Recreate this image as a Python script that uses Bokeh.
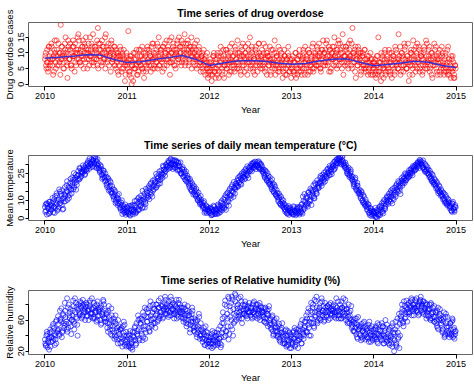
from bokeh.plotting import figure
from bokeh.layouts import column
from bokeh.models import FixedTicker, Range1d
from bokeh.embed import file_html
from bokeh.resources import INLINE

years = [2010, 2011, 2012, 2013, 2014]
year_ticks = [2010, 2011, 2012, 2013, 2014, 2015]
year_labels = ["2010", "2011", "2012", "2013", "2014", "2015"]

# ---- Drug overdose cases: three interleaved sets of readings per year ----
drug_2010 = [8, 6, 11, 5, 9, 7, 12, 8, 4, 10, 9, 6, 13, 7, 19, 8, 10, 5, 11, 9, 2, 12, 8, 6, 10, 14, 9, 7, 11, 15,
             8, 10, 6, 12, 9, 13, 7, 11, 10, 8, 15, 9, 12, 6, 10, 11, 8, 18, 9, 13, 7, 10, 12, 8, 16, 9, 11, 6, 10, 14,
             8, 9, 12, 5, 7, 10, 6, 9, 4, 8, 11, 1, 7]
drug_2011 = [6, 17, 3, 8, 0, 7, 5, 10, 6, 9, 4, 7, 11, 5, 8, 2, 9, 6, 12, 7, 10, 4, 8, 13, 6, 9, 11, 5, 15, 8,
             10, 7, 12, 6, 9, 14, 8, 11, 3, 10, 7, 13, 9, 5, 11, 8, 15, 10, 6, 12, 9, 16, 7, 11, 13, 8, 10, 15, 9, 12,
             6, 11, 14, 8, 10, 7, 9, 5, 11, 8, 6, 10, 3]
drug_2012 = [5, 8, 1, 6, 10, 4, 7, 3, 9, 6, 12, 5, 8, 2, 7, 11, 6, 9, 4, 8, 13, 7, 5, 10, 8, 14, 6, 9, 3, 11,
             7, 8, 12, 5, 9, 7, 15, 6, 10, 4, 8, 11, 7, 9, 13, 6, 8, 5, 10, 7, 12, 3, 9, 6, 8, 11, 5, 7, 14, 6,
             9, 4, 8, 7, 10, 2, 6, 9, 5, 8, 12, 4, 7]
drug_2013 = [6, 9, 4, 7, 2, 8, 5, 11, 6, 3, 9, 7, 12, 5, 8, 4, 10, 6, 7, 13, 5, 9, 8, 11, 6, 10, 4, 9, 14, 7,
             11, 8, 6, 12, 9, 5, 10, 8, 15, 7, 11, 9, 6, 13, 8, 10, 3, 9, 12, 7, 10, 8, 14, 6, 18, 9, 11, 2, 8, 12,
             7, 10, 5, 9, 6, 11, 4, 8, 7, 5, 10, 6, 3]
drug_2014 = [5, 8, 2, 6, 15, 4, 7, 3, 9, 5, 11, 6, 8, 4, 10, 7, 2, 9, 5, 12, 6, 8, 16, 7, 4, 10, 6, 13, 8, 5,
             9, 1, 7, 11, 6, 14, 8, 4, 10, 7, 12, 5, 9, 3, 8, 11, 6, 13, 7, 9, 5, 10, 2, 8, 6, 12, 4, 7, 9, 3,
             6, 10, 5, 8, 4, 7, 12, 3, 6, 5, 9, 2, 6]

drug2_2010 = [9, 5, 7, 12, 6, 10, 8, 3, 11, 7, 14, 9, 6, 10, 8, 12, 5, 9, 15, 7, 11, 8, 13, 6, 9, 12, 4, 10, 8, 11,
              14, 7, 9, 12, 5, 10, 15, 8, 11, 6, 9, 13, 10, 7, 12, 8, 14, 5, 11, 9, 6, 12, 8, 15, 10, 7, 13, 9, 4, 11,
              8, 12, 6, 10, 9, 3, 8, 11, 5, 9, 7, 6, 10]
drug2_2011 = [5, 8, 4, 9, 6, 1, 8, 5, 11, 3, 7, 9, 6, 12, 4, 8, 10, 5, 7, 11, 9, 6, 13, 8, 5, 10, 7, 12, 6, 9,
              11, 4, 8, 13, 10, 6, 12, 7, 9, 15, 8, 11, 6, 10, 13, 9, 7, 12, 14, 8, 10, 6, 13, 9, 11, 7, 12, 5, 10, 8,
              13, 9, 6, 11, 7, 4, 9, 6, 8, 3, 7, 5, 4]
drug2_2012 = [7, 3, 6, 9, 4, 8, 5, 10, 2, 7, 9, 4, 11, 6, 8, 5, 10, 3, 12, 7, 6, 9, 4, 11, 7, 10, 5, 8, 12, 6,
              9, 4, 10, 7, 13, 8, 5, 11, 7, 9, 3, 12, 6, 8, 10, 5, 9, 7, 13, 4, 8, 10, 6, 9, 3, 7, 11, 8, 5, 10,
              6, 12, 4, 9, 7, 5, 11, 3, 8, 6, 9, 4, 5]
drug2_2013 = [8, 4, 7, 10, 5, 3, 9, 6, 4, 8, 11, 5, 7, 9, 3, 10, 6, 8, 12, 4, 7, 10, 6, 9, 13, 5, 8, 11, 6, 10,
              7, 14, 9, 4, 11, 8, 12, 6, 9, 10, 5, 13, 8, 11, 7, 16, 9, 6, 12, 8, 5, 11, 9, 13, 7, 10, 4, 8, 6, 11,
              9, 3, 7, 10, 5, 8, 6, 9, 4, 7, 3, 8, 5]
drug2_2014 = [7, 3, 6, 9, 4, 7, 1, 8, 5, 10, 3, 7, 6, 11, 4, 8, 6, 9, 3, 7, 10, 5, 8, 12, 6, 9, 4, 11, 7, 5,
              13, 8, 6, 10, 3, 9, 7, 12, 5, 8, 11, 6, 9, 4, 10, 7, 14, 5, 8, 12, 6, 3, 9, 7, 11, 5, 8, 10, 4, 7,
              12, 6, 3, 9, 5, 11, 4, 7, 2, 8, 5, 3, 6]

drug3_2010 = [10, 7, 4, 12, 8, 13, 6, 9, 14, 5, 11, 8, 10, 3, 12, 9, 7, 13, 10, 6, 14, 8, 11, 5, 12, 9, 13, 6, 10,
              16, 7, 11, 9, 14, 8, 12, 10, 5, 13, 9, 11, 7, 16, 8, 12, 10, 6, 13, 9, 11, 14, 7, 10, 5, 12, 8, 11, 9,
              13, 7, 10, 6, 11, 8, 4, 9, 12, 7, 10, 5, 8, 3, 9]
drug3_2011 = [7, 4, 9, 2, 6, 10, 5, 8, 3, 7, 11, 6, 9, 5, 10, 7, 4, 11, 8, 6, 9, 12, 5, 10, 8, 7, 13, 9, 6, 11,
              8, 12, 5, 10, 8, 11, 9, 14, 7, 10, 12, 6, 11, 9, 14, 8, 12, 10, 7, 13, 11, 8, 10, 14, 6, 12, 9, 11, 7,
              10, 8, 5, 9, 12, 6, 8, 10, 4, 7, 9, 5, 2, 6]
drug3_2012 = [4, 7, 3, 9, 5, 2, 8, 6, 4, 10, 7, 3, 9, 6, 11, 5, 8, 7, 10, 4, 9, 6, 12, 8, 5, 7, 10, 4, 9, 13,
              6, 10, 8, 3, 11, 7, 9, 12, 5, 8, 6, 10, 4, 13, 7, 9, 11, 6, 8, 5, 10, 9, 7, 12, 4, 8, 6, 10, 3, 9,
              7, 5, 11, 6, 8, 4, 9, 7, 3, 10, 6, 8, 2]
drug3_2013 = [5, 7, 3, 10, 6, 8, 4, 9, 7, 5, 10, 3, 8, 6, 11, 7, 4, 9, 5, 10, 8, 6, 12, 7, 9, 5, 11, 8, 10, 6,
              13, 9, 7, 11, 4, 10, 8, 12, 9, 6, 11, 14, 8, 10, 5, 12, 7, 9, 11, 6, 13, 9, 8, 5, 10, 7, 12, 9, 6,
              10, 8, 4, 9, 6, 11, 5, 7, 3, 9, 6, 8, 4, 7]
drug3_2014 = [6, 4, 9, 3, 7, 5, 10, 6, 2, 8, 4, 9, 5, 7, 3, 10, 6, 8, 4, 11, 7, 5, 9, 3, 10, 8, 6, 12, 5, 9,
              7, 3, 10, 8, 5, 11, 6, 9, 13, 7, 4, 10, 8, 6, 12, 5, 9, 7, 11, 4, 8, 10, 6, 13, 7, 9, 3, 8, 11, 5,
              9, 7, 4, 10, 6, 3, 8, 5, 9, 4, 7, 2, 5]

# smooth trend line of drug overdose cases
trend_t = [2010.0, 2010.17, 2010.33, 2010.5, 2010.67, 2010.83, 2011.0, 2011.17, 2011.33, 2011.5, 2011.67,
           2011.83, 2012.0, 2012.17, 2012.33, 2012.5, 2012.67, 2012.83, 2013.0, 2013.17, 2013.33, 2013.5,
           2013.67, 2013.83, 2014.0, 2014.17, 2014.33, 2014.5, 2014.67, 2014.83, 2015.0]
trend_v = [8.3, 8.6, 8.9, 9.4, 9.3, 8.0, 6.9, 7.2, 7.9, 8.5, 9.2, 8.0, 6.0, 6.8, 7.4, 7.6, 7.3, 6.8, 6.4, 6.6,
           7.4, 8.0, 8.1, 7.0, 5.9, 6.3, 6.8, 7.3, 7.0, 6.0, 5.3]

# ---- Daily mean temperature (°C) ----
temp_2010 = [6.2, 4.1, 8.0, 5.3, 2.8, 7.4, 5.0, 9.3, 6.1, 12.2, 7.5, 4.2, 10.4, 8.1, 13.5, 7.2, 11.0, 9.2, 12.3,
             15.1, 10.2, 17.4, 13.0, 16.2, 18.1, 21.3, 17.2, 22.4, 20.1, 23.5, 24.2, 22.0, 26.1, 25.3, 27.2, 26.0,
             28.1, 27.3, 30.2, 29.0, 31.1, 30.4, 31.2, 32.0, 30.1, 33.0, 31.3, 29.2, 28.0, 26.1, 27.2, 24.0, 25.1,
             22.3, 21.0, 19.2, 20.1, 17.3, 18.0, 15.2, 14.1, 12.0, 13.2, 10.1, 11.0, 8.2, 9.1, 6.0, 7.2, 4.1, 6.0,
             3.2, 5.1]
temp_2011 = [4.0, 2.2, 5.1, 3.0, 6.2, 2.1, 4.3, 7.0, 3.2, 8.1, 5.0, 9.2, 7.1, 10.0, 6.2, 12.1, 9.0, 11.2, 14.0,
             12.1, 16.2, 13.0, 17.1, 15.2, 18.0, 20.1, 17.2, 22.0, 19.1, 21.2, 23.0, 25.1, 24.2, 27.0, 26.1, 28.2,
             29.0, 31.1, 28.2, 30.0, 32.1, 29.2, 30.0, 28.1, 31.2, 27.0, 29.1, 26.2, 25.0, 27.1, 23.2, 24.0, 21.1,
             22.2, 20.0, 18.1, 19.2, 16.0, 17.1, 14.2, 15.0, 12.1, 13.2, 10.0, 11.1, 8.2, 9.0, 7.1, 6.2, 5.0, 7.1,
             4.2, 5.0]
temp_2012 = [4.1, 3.0, 5.2, 2.1, 4.0, 3.2, 5.1, 3.0, 6.2, 4.1, 7.0, 5.2, 8.1, 6.0, 10.2, 7.1, 12.0, 9.2, 13.1,
             11.0, 15.2, 14.1, 17.0, 16.2, 19.1, 18.0, 21.2, 20.1, 22.0, 21.2, 23.1, 25.0, 22.2, 26.1, 24.0, 27.2,
             28.1, 27.0, 29.2, 30.1, 28.0, 29.2, 30.1, 29.0, 28.2, 30.0, 27.1, 26.2, 25.0, 23.1, 24.2, 21.0, 22.1,
             20.2, 19.0, 17.1, 18.2, 15.0, 16.1, 13.2, 12.0, 10.1, 11.2, 8.0, 9.1, 7.2, 6.0, 5.1, 4.2, 6.0, 3.1,
             5.2, 4.0]
temp_2013 = [3.1, 5.0, 2.2, 4.1, 3.0, 6.2, 4.1, 2.0, 5.2, 3.1, 12.0, 6.2, 9.1, 7.0, 11.2, 8.1, 13.0, 10.2, 12.1,
             15.0, 11.2, 16.1, 14.0, 17.2, 18.1, 20.0, 19.2, 22.1, 21.0, 23.2, 24.1, 23.0, 25.2, 26.1, 24.0, 27.2,
             28.1, 29.0, 27.2, 30.1, 31.0, 32.2, 33.1, 34.0, 31.2, 32.1, 30.0, 29.2, 28.1, 26.0, 27.2, 24.1, 25.0,
             22.2, 21.1, 19.0, 20.2, 17.1, 18.0, 15.2, 14.1, 12.0, 13.2, 10.1, 9.0, 8.2, 7.1, 5.0, 6.2, 3.1, 4.0,
             2.2, 3.1]
temp_2014 = [4.0, 1.2, 3.1, 0.2, 2.0, 5.1, 3.2, 6.0, 4.1, 8.2, 5.0, 9.1, 10.2, 8.0, 12.1, 9.2, 14.0, 11.1, 15.2,
             13.0, 17.1, 16.2, 18.0, 15.1, 19.2, 21.0, 20.1, 22.2, 21.0, 23.1, 24.2, 23.0, 25.1, 26.2, 25.0, 27.1,
             28.2, 27.0, 29.1, 30.2, 29.0, 31.1, 30.2, 29.0, 28.1, 27.2, 26.0, 27.1, 25.2, 24.0, 23.1, 22.2, 21.0,
             20.1, 19.2, 18.0, 17.1, 16.2, 15.0, 14.1, 13.2, 12.0, 11.1, 10.2, 9.0, 8.1, 9.2, 7.0, 6.1, 4.2, 8.0,
             5.1, 6.2]

temp2_2010 = [3.5, 8.2, 6.9, 2.4, 9.1, 4.8, 8.3, 3.2, 10.5, 5.6, 13.8, 9.4, 6.0, 14.7, 9.8, 15.6, 5.2, 13.1,
              9.5, 18.3, 14.6, 11.2, 19.5, 15.8, 22.6, 16.0, 19.4, 24.1, 18.5, 21.7, 21.4, 27.6, 23.3, 24.8, 28.2,
              23.9, 29.5, 26.2, 31.8, 27.4, 29.9, 32.6, 29.0, 33.4, 28.6, 31.9, 29.7, 27.5, 26.8, 29.4, 24.1, 22.6,
              26.3, 20.4, 23.0, 17.2, 21.8, 16.0, 19.9, 13.5, 16.1, 10.4, 14.8, 9.0, 12.7, 10.6, 7.8, 4.5, 9.9,
              5.2, 2.9, 7.6, 3.4]
temp2_2011 = [5.8, 3.1, 1.9, 6.9, 4.4, 3.6, 7.1, 2.6, 9.8, 4.2, 11.5, 6.7, 12.4, 5.5, 9.0, 13.6, 7.8, 14.9,
              11.3, 17.8, 14.5, 19.6, 12.0, 18.4, 21.5, 16.8, 23.2, 20.7, 24.5, 19.3, 26.5, 22.4, 28.6, 25.3, 29.4,
              27.0, 30.8, 27.6, 32.5, 30.1, 28.4, 31.7, 27.9, 32.0, 29.3, 30.6, 26.8, 31.0, 24.5, 28.3, 25.6, 21.5,
              25.9, 23.6, 21.8, 17.0, 20.5, 14.9, 18.3, 16.4, 13.4, 16.3, 10.8, 14.2, 8.9, 12.3, 8.0, 5.6, 9.4,
              3.8, 6.5, 4.9, 3.5]
temp2_2012 = [2.8, 5.9, 1.8, 4.6, 6.4, 2.5, 3.9, 6.8, 2.7, 5.8, 8.6, 4.4, 10.6, 5.4, 12.8, 8.7, 14.3, 6.9,
              16.4, 12.5, 18.6, 11.8, 16.9, 19.2, 17.2, 22.3, 19.8, 23.6, 18.7, 24.0, 25.8, 21.6, 27.4, 23.7, 25.5,
              28.3, 26.4, 30.2, 27.8, 31.0, 29.6, 27.2, 31.2, 28.0, 30.9, 27.6, 29.4, 25.8, 27.0, 22.4, 25.9, 20.6,
              23.5, 18.7, 20.8, 16.0, 19.3, 14.2, 17.5, 12.4, 14.0, 9.2, 12.6, 7.3, 10.5, 8.4, 7.8, 3.6, 5.9, 2.4,
              6.7, 3.8, 2.9]
temp2_2013 = [4.6, 1.9, 6.1, 3.3, 2.4, 5.5, 2.8, 6.3, 3.7, 8.0, 4.5, 13.4, 7.6, 12.3, 6.4, 14.5, 9.3, 15.6,
              13.8, 18.2, 10.9, 18.7, 13.5, 19.4, 16.9, 22.4, 20.5, 24.0, 19.7, 21.8, 26.0, 22.3, 27.5, 23.8, 28.2,
              25.6, 30.0, 26.8, 31.5, 29.3, 32.8, 30.4, 31.9, 33.5, 29.8, 34.6, 30.7, 27.9, 29.6, 25.0, 26.3, 22.8,
              27.0, 23.4, 22.9, 17.6, 21.5, 16.2, 19.6, 13.7, 15.8, 11.0, 14.4, 8.6, 11.9, 6.8, 8.9, 4.3, 7.5, 1.8,
              5.4, 3.6, 1.5]
temp2_2014 = [2.6, 5.7, 0.8, 3.9, 1.5, 6.6, 4.8, 8.4, 2.6, 10.2, 6.7, 11.3, 8.7, 13.5, 10.6, 15.4, 8.2, 13.0,
              17.0, 11.9, 18.9, 14.6, 19.9, 16.8, 20.6, 18.0, 23.3, 19.5, 24.4, 22.0, 22.4, 26.7, 24.1, 27.6, 23.8,
              28.4, 26.5, 29.8, 28.5, 31.2, 27.9, 32.0, 31.4, 28.1, 30.6, 25.8, 29.2, 24.9, 27.1, 22.7, 25.0, 20.5,
              23.8, 18.6, 21.2, 16.5, 19.4, 13.8, 17.6, 12.4, 15.0, 10.5, 13.6, 8.4, 11.7, 7.0, 10.2, 5.6, 7.8, 3.5,
              9.1, 4.3, 7.2]

temp3_2010 = [7.5, 2.0, 5.9, 9.0, 3.6, 6.5, 11.2, 6.4, 2.9, 8.8, 12.6, 5.1, 16.0, 8.4, 12.5, 4.8, 10.9, 17.2,
              14.0, 20.5, 12.4, 16.9, 21.8, 13.7, 19.6, 25.0, 21.2, 15.8, 23.4, 26.3, 27.9, 22.8, 25.7, 29.3, 26.4,
              24.5, 27.0, 30.7, 28.8, 33.2, 30.0, 28.3, 32.3, 30.5, 34.0, 27.8, 32.8, 30.2, 25.5, 28.7, 21.9, 26.6,
              23.0, 24.8, 18.4, 22.6, 15.3, 20.7, 14.4, 17.8, 12.0, 15.7, 8.3, 11.6, 7.2, 13.4, 5.6, 8.7, 2.3, 6.9,
              4.4, 1.9, 6.3]
temp3_2011 = [2.9, 6.8, 1.4, 4.9, 7.4, 3.3, 9.5, 3.7, 6.1, 11.0, 4.6, 10.3, 8.6, 15.2, 10.4, 5.9, 16.3, 12.8,
              16.7, 10.5, 19.0, 13.9, 20.8, 16.1, 19.9, 24.6, 18.2, 22.6, 26.0, 21.4, 24.4, 29.1, 26.9, 23.5, 30.0,
              28.7, 31.9, 29.5, 33.0, 30.7, 27.3, 32.3, 29.6, 31.4, 26.5, 30.8, 28.9, 24.8, 27.4, 23.0, 26.9, 24.8,
              20.3, 22.5, 18.9, 21.9, 15.6, 19.4, 13.1, 17.7, 12.8, 14.9, 9.8, 11.5, 7.6, 10.2, 6.8, 8.6, 3.0, 5.5,
              2.8, 6.1, 4.2]
temp3_2012 = [5.3, 1.6, 3.7, 6.9, 2.3, 4.8, 2.2, 7.6, 4.9, 3.3, 9.4, 6.2, 7.4, 11.6, 4.6, 13.7, 10.1, 15.5,
              12.7, 17.4, 14.9, 20.1, 13.6, 18.0, 21.0, 17.6, 23.0, 19.1, 24.8, 22.5, 22.9, 26.6, 24.6, 28.8, 22.3,
              26.2, 29.1, 26.0, 30.6, 28.5, 31.4, 28.9, 29.7, 31.6, 27.1, 30.2, 28.6, 26.9, 24.0, 26.5, 21.8, 24.9,
              19.6, 22.8, 17.9, 21.6, 15.1, 18.6, 13.3, 15.7, 11.5, 13.7, 8.1, 11.9, 6.6, 9.9, 5.1, 7.2, 2.8, 4.6,
              1.9, 5.8, 3.3]
temp3_2013 = [2.5, 6.6, 3.9, 1.6, 5.1, 2.9, 5.8, 3.2, 7.4, 2.5, 9.6, 5.4, 11.1, 8.2, 14.1, 9.9, 16.4, 7.3,
              15.5, 12.2, 19.5, 15.1, 21.0, 16.6, 19.3, 23.5, 17.9, 22.6, 25.1, 20.4, 23.1, 27.1, 25.0, 29.0, 26.7,
              24.4, 28.9, 31.2, 28.0, 32.4, 30.6, 33.6, 32.7, 30.3, 33.9, 31.5, 29.0, 30.9, 27.3, 24.5, 28.0, 23.7,
              25.8, 21.6, 20.3, 18.7, 22.4, 15.4, 18.1, 14.6, 13.1, 15.1, 9.7, 12.8, 7.7, 10.4, 6.1, 7.9, 2.9, 5.7,
              1.2, 4.4, 2.6]
temp3_2014 = [3.5, 0.5, 4.6, 2.2, 6.1, 1.8, 7.0, 3.5, 9.3, 5.6, 7.7, 12.2, 11.8, 9.6, 14.4, 12.0, 16.2, 10.3,
              14.1, 18.1, 15.6, 20.6, 17.6, 13.4, 22.3, 19.2, 21.8, 24.9, 20.9, 23.6, 25.3, 23.1, 27.0, 25.6, 28.9,
              26.3, 29.4, 27.4, 30.8, 29.9, 32.4, 30.5, 29.9, 32.1, 27.0, 30.0, 26.6, 28.3, 24.3, 26.4, 21.6, 24.6,
              19.7, 22.0, 18.7, 20.4, 15.2, 18.2, 14.6, 16.0, 12.6, 14.2, 9.4, 12.9, 7.9, 10.8, 8.5, 6.7, 4.2, 8.3,
              5.4, 3.6, 6.0]

# ---- Relative humidity (%) ----
hum_2010 = [35, 28, 42, 31, 38, 26, 45, 33, 50, 40, 30, 48, 55, 42, 62, 38, 68, 50, 72, 58, 45, 80, 63, 52,
            60, 85, 48, 70, 77, 40, 75, 68, 82, 64, 78, 72, 70, 80, 66, 74, 85, 69, 68, 76, 62, 72, 80, 65,
            71, 60, 78, 66, 84, 63, 58, 70, 45, 64, 52, 75, 48, 62, 40, 55, 35, 60, 42, 30, 50, 36, 58, 28, 45]
hum_2011 = [35, 27, 40, 24, 32, 45, 38, 52, 30, 46, 60, 34, 55, 42, 70, 48, 36, 64, 58, 75, 45, 66, 52, 80,
            62, 50, 72, 58, 85, 65, 70, 78, 64, 82, 68, 74, 76, 84, 70, 66, 80, 72, 68, 78, 62, 74, 86, 70,
            64, 72, 58, 80, 60, 68, 55, 66, 48, 62, 72, 50, 45, 58, 38, 52, 64, 42, 40, 32, 50, 36, 45, 30, 38]
hum_2012 = [34, 26, 42, 30, 38, 28, 40, 32, 48, 36, 25, 44, 70, 38, 85, 45, 62, 35, 78, 52, 90, 40, 68, 84,
            60, 75, 88, 66, 72, 56, 74, 68, 80, 65, 77, 71, 70, 76, 62, 82, 68, 74, 66, 80, 72, 60, 76, 70,
            64, 58, 74, 68, 52, 78, 56, 48, 66, 42, 60, 52, 45, 38, 55, 32, 50, 40, 42, 30, 48, 35, 28, 44, 36]
hum_2013 = [38, 30, 46, 26, 42, 34, 48, 36, 55, 30, 44, 40, 52, 66, 45, 75, 58, 40, 62, 80, 50, 70, 90, 56,
            68, 76, 60, 84, 72, 64, 70, 66, 78, 72, 62, 74, 68, 74, 64, 78, 70, 66, 72, 80, 62, 76, 88, 68,
            66, 74, 58, 70, 62, 78, 52, 60, 45, 56, 38, 64, 48, 40, 55, 36, 50, 44, 42, 50, 36, 58, 40, 46, 34]
hum_2014 = [44, 38, 52, 32, 48, 40, 36, 56, 42, 30, 50, 38, 34, 46, 28, 40, 52, 36, 20, 48, 30, 62, 38, 55,
            65, 80, 58, 72, 68, 85, 74, 82, 70, 78, 86, 72, 80, 76, 88, 70, 78, 84, 72, 80, 68, 76, 82, 70,
            66, 74, 62, 80, 70, 64, 58, 70, 52, 76, 60, 66, 54, 44, 62, 40, 68, 50, 46, 38, 56, 42, 60, 40, 45]

hum2_2010 = [30, 40, 25, 36, 44, 32, 38, 55, 42, 35, 60, 46, 48, 72, 58, 44, 66, 53, 64, 48, 76, 56, 70, 42,
             66, 78, 55, 82, 62, 73, 70, 84, 76, 66, 80, 74, 77, 65, 72, 82, 68, 75, 74, 64, 78, 70, 60, 73,
             66, 76, 56, 70, 80, 58, 62, 50, 72, 56, 42, 66, 52, 44, 58, 38, 50, 45, 36, 48, 32, 52, 40, 34, 26]
hum2_2011 = [30, 42, 28, 36, 25, 40, 44, 34, 56, 40, 48, 62, 46, 60, 38, 66, 52, 74, 64, 50, 78, 60, 70, 56,
             74, 66, 80, 60, 76, 70, 66, 80, 72, 76, 86, 68, 72, 66, 78, 86, 74, 68, 80, 70, 66, 82, 72, 76,
             70, 62, 76, 66, 56, 72, 60, 70, 54, 68, 58, 46, 52, 42, 60, 48, 36, 56, 46, 36, 42, 28, 34, 44, 32]
hum2_2012 = [30, 38, 24, 34, 44, 32, 36, 28, 42, 30, 38, 56, 48, 64, 40, 78, 52, 88, 64, 82, 48, 74, 58, 92,
             70, 80, 62, 76, 84, 68, 72, 78, 66, 74, 70, 82, 66, 72, 80, 70, 64, 76, 74, 68, 64, 78, 72, 66,
             70, 62, 56, 72, 66, 60, 62, 54, 46, 58, 50, 40, 50, 42, 34, 48, 44, 30, 38, 46, 26, 40, 32, 24, 40]
hum2_2013 = [32, 44, 36, 28, 48, 40, 34, 46, 38, 60, 42, 50, 58, 44, 70, 50, 62, 82, 70, 56, 86, 64, 76, 60,
             74, 82, 66, 72, 78, 60, 76, 64, 70, 80, 68, 72, 72, 80, 70, 62, 76, 84, 66, 74, 84, 70, 64, 78,
             60, 70, 64, 56, 72, 50, 58, 46, 62, 42, 54, 48, 42, 52, 38, 46, 58, 35, 48, 38, 54, 44, 32, 52, 40]
hum2_2014 = [40, 48, 35, 56, 42, 46, 46, 34, 52, 40, 60, 32, 42, 30, 50, 38, 26, 44, 34, 58, 26, 44, 68, 40,
             60, 74, 52, 78, 64, 70, 80, 68, 76, 88, 74, 66, 74, 84, 72, 80, 68, 86, 78, 70, 84, 74, 66, 80,
             72, 80, 60, 68, 76, 58, 64, 56, 72, 48, 68, 62, 60, 48, 70, 42, 56, 64, 52, 42, 48, 58, 38, 50, 42]

hum3_2010 = [27, 45, 33, 22, 48, 38, 52, 36, 28, 58, 44, 65, 40, 60, 75, 46, 56, 82, 55, 88, 50, 66, 74, 60,
             72, 58, 88, 64, 54, 80, 66, 78, 62, 86, 70, 60, 82, 72, 60, 78, 64, 88, 62, 82, 70, 58, 84, 76,
             74, 54, 68, 86, 62, 72, 68, 56, 78, 48, 60, 40, 58, 36, 66, 46, 30, 52, 48, 38, 26, 44, 54, 32, 40]
hum3_2011 = [38, 26, 46, 30, 22, 34, 50, 28, 42, 66, 36, 56, 62, 34, 52, 76, 44, 58, 70, 46, 84, 54, 62, 74,
             56, 80, 68, 76, 62, 88, 78, 62, 74, 90, 72, 80, 64, 78, 90, 74, 82, 62, 72, 86, 76, 64, 80, 68,
             76, 68, 62, 74, 52, 78, 66, 44, 58, 76, 52, 62, 60, 50, 44, 68, 40, 48, 36, 44, 28, 52, 40, 26, 34]
hum3_2012 = [38, 30, 46, 26, 34, 40, 44, 30, 36, 52, 28, 62, 56, 80, 46, 68, 90, 42, 72, 60, 86, 56, 94, 66,
             78, 64, 70, 90, 62, 80, 68, 84, 74, 62, 78, 70, 76, 64, 70, 84, 72, 80, 62, 74, 82, 68, 70, 76,
             58, 76, 62, 68, 74, 54, 50, 64, 40, 56, 46, 62, 40, 52, 36, 44, 56, 34, 30, 40, 28, 46, 34, 42, 24]
hum3_2013 = [28, 36, 50, 32, 44, 24, 40, 52, 30, 48, 36, 58, 46, 62, 54, 40, 72, 56, 76, 52, 66, 84, 58, 72,
             62, 70, 88, 66, 58, 82, 72, 78, 60, 76, 82, 66, 78, 70, 66, 88, 72, 62, 70, 62, 76, 66, 74, 86,
             74, 56, 80, 66, 60, 54, 46, 56, 50, 62, 36, 52, 50, 34, 46, 56, 40, 52, 38, 46, 32, 50, 42, 36, 48]
hum3_2014 = [36, 50, 42, 30, 54, 38, 40, 52, 30, 46, 36, 54, 38, 48, 34, 30, 56, 42, 44, 28, 52, 36, 24, 62,
             70, 56, 84, 62, 76, 58, 70, 78, 84, 66, 80, 76, 86, 72, 78, 66, 82, 90, 76, 84, 72, 80, 62, 74,
             64, 74, 82, 62, 70, 78, 70, 60, 50, 64, 74, 56, 46, 58, 38, 64, 52, 42, 44, 56, 40, 62, 48, 36, 46]


def series(sets):
    """sets: list of (per-year lists, fraction of a step to shift)"""
    xs, ys = [], []
    for lists, shift in sets:
        for yr, vals in zip(years, lists):
            n = len(vals)
            for i, v in enumerate(vals):
                xs.append(yr + (i + shift) / n)
                ys.append(v)
    return xs, ys


FONT = "Liberation Sans"
W = 474


def make_panel(title, ylab, h, top, bottom, standoff, y0, y1, yticks, yshown):
    p = figure(width=W, height=h, output_backend="svg", toolbar_location=None,
               x_range=Range1d(2009.8, 2015.2), y_range=Range1d(y0, y1),
               min_border_left=25, min_border_right=2, min_border_top=top, min_border_bottom=bottom)
    p.title.text = title
    p.title.align = "center"
    p.title.text_font = FONT
    p.title.text_font_style = "bold"
    p.title.text_font_size = "10.5px"
    p.title.text_color = "black"
    p.title.standoff = standoff
    p.xgrid.visible = False
    p.ygrid.visible = False
    p.outline_line_color = "#666666"
    p.outline_line_width = 1
    p.background_fill_color = "white"
    p.border_fill_color = "white"

    xa = p.xaxis[0]
    xa.ticker = FixedTicker(ticks=year_ticks)
    xa.major_label_overrides = {t: l for t, l in zip(year_ticks, year_labels)}
    xa.bounds = (year_ticks[0], year_ticks[-1])
    xa.axis_label = "Year"
    xa.major_tick_out = 4
    xa.major_label_standoff = 2
    xa.axis_label_standoff = 2

    ya = p.yaxis[0]
    ya.ticker = FixedTicker(ticks=yticks)
    ya.major_label_overrides = {t: (str(t) if t in yshown else "") for t in yticks}
    ya.bounds = (yticks[0], yticks[-1])
    ya.axis_label = ylab
    ya.major_label_orientation = "vertical"
    ya.major_tick_out = 3
    ya.major_label_standoff = 1
    ya.axis_label_standoff = 1

    for ax in (xa, ya):
        ax.axis_line_color = "black"
        ax.major_tick_line_color = "black"
        ax.minor_tick_line_color = None
        ax.major_tick_in = 0
        ax.major_label_text_font = FONT
        ax.major_label_text_font_size = "9px"
        ax.major_label_text_color = "black"
        ax.axis_label_text_font = FONT
        ax.axis_label_text_font_size = "9.5px"
        ax.axis_label_text_font_style = "normal"
        ax.axis_label_text_color = "black"
    return p


MARK = dict(marker="circle", size=5, fill_color=None, line_width=0.8, line_alpha=0.75)
SHIFTS = [0.0, 0.33, 0.67]

p1 = make_panel("Time series of drug overdose", "Drug overdose cases", 130, 21, 44, 8,
                -0.76, 19.76, [0, 5, 10, 15], [0, 5, 10, 15])
x1, y1 = series(list(zip([[drug_2010, drug_2011, drug_2012, drug_2013, drug_2014],
                          [drug2_2010, drug2_2011, drug2_2012, drug2_2013, drug2_2014],
                          [drug3_2010, drug3_2011, drug3_2012, drug3_2013, drug3_2014]], SHIFTS)))
p1.scatter(x1, y1, line_color="red", **MARK)
p1.line(trend_t, trend_v, line_color="#3c2fd0", line_width=1.5)

p2 = make_panel("Time series of daily mean temperature (°C)", "Mean temperature", 135, 25, 45, 9,
                -1.3, 34.8, [0, 5, 10, 15, 20, 25, 30], [0, 10, 25])
x2, y2 = series(list(zip([[temp_2010, temp_2011, temp_2012, temp_2013, temp_2014],
                          [temp2_2010, temp2_2011, temp2_2012, temp2_2013, temp2_2014],
                          [temp3_2010, temp3_2011, temp3_2012, temp3_2013, temp3_2014]], SHIFTS)))
p2.scatter(x2, y2, line_color="blue", **MARK)

p3 = make_panel("Time series of Relative humidity (%)", "Relative humidity", 120, 25, 30, 9,
                15.8, 98, [20, 40, 60, 80], [20, 60])
x3, y3 = series(list(zip([[hum_2010, hum_2011, hum_2012, hum_2013, hum_2014],
                          [hum2_2010, hum2_2011, hum2_2012, hum2_2013, hum2_2014],
                          [hum3_2010, hum3_2011, hum3_2012, hum3_2013, hum3_2014]], SHIFTS)))
p3.scatter(x3, y3, line_color="blue", **MARK)

layout = column(p1, p2, p3, spacing=0)
open("out.html", "w").write(file_html(layout, INLINE))
